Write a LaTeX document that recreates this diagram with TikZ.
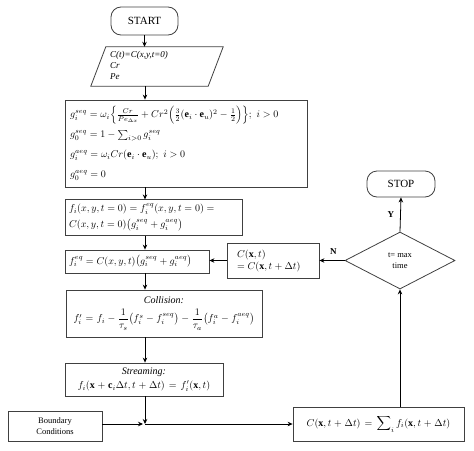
\documentclass[tikz,border=0pt]{standalone}
\usepackage{amsmath,amssymb}
\usepackage{fontspec}
\setmainfont{Liberation Serif}
\usetikzlibrary{shapes.geometric,arrows.meta,calc}
\begin{document}
\begin{tikzpicture}[x=1pt,y=-1pt,
  box/.style={draw=black!75, line width=0.8pt, rectangle, inner sep=4pt, font=\fontsize{10}{15}\selectfont},
  term/.style={draw=black!75, line width=0.8pt, rounded corners=10pt, inner sep=0pt, font=\fontsize{11}{13}\selectfont},
  arr/.style={-{Stealth[length=5pt,width=4.5pt]}, line width=0.8pt},
  lbl/.style={font=\bfseries\fontsize{9}{10}\selectfont, inner sep=0pt}]
\useasboundingbox (0,0) rectangle (474,450);

% nodes
\node[term, minimum width=67pt, minimum height=28pt] (start) at (144.5,21) {START};
\node[inner sep=0pt, minimum width=132pt, minimum height=39pt] (para) at (157,66.5) {};
\draw[draw=black!75, line width=0.8pt] ($(para.north west)+(15,0)$) -- (para.north east) -- ($(para.south east)+(-15,0)$) -- (para.south west) -- cycle;
\node[anchor=north west, align=left, inner sep=0pt, font=\itshape\fontsize{9}{11}\selectfont] (ptext) at (110,51) {C(t)=C(x,y,t=0)\\Cr\\Pe};

\node[box, text width=232pt, inner sep=5pt, minimum height=87pt, align=left, font=\fontsize{10}{20}\selectfont] (eqs) at (186,143.5)
{$g_i^{seq} = \omega_i\Big\{\frac{Cr}{Pe_{\Delta x}} + Cr^2\Big(\frac{3}{2}(\mathbf{e}_i\cdot\mathbf{e}_u)^2-\frac{1}{2}\Big)\Big\};\ i>0$\\
$g_0^{seq} = 1-\sum_{i>0} g_i^{seq}$\\
$g_i^{aeq} = \omega_i Cr(\mathbf{e}_i\cdot\mathbf{e}_u);\ i>0$\\
$g_0^{aeq} = 0$};

\node[box, text width=169pt, minimum height=35pt, align=left, font=\fontsize{10}{16}\selectfont] (init) at (153.5,217.5)
{$f_i(x,y,t=0) = f_i^{eq}(x,y,t=0) =$\\
$C(x,y,t=0)\big(g_i^{seq}+g_i^{aeq}\big)$};

\node[box, text width=136pt, minimum height=23pt, align=left] (feq) at (137,261.5)
{$f_i^{eq} = C(x,y,t)\big(g_i^{seq}+g_i^{aeq}\big)$};

\node[box, text width=190pt, minimum height=47pt, align=center, inner sep=3pt, font=\fontsize{10}{18}\selectfont] (coll) at (164,313.5)
{\textit{Collision:}\\
$f_i' = f_i - \dfrac{1}{\tau_s}\big(f_i^s - f_i^{seq}\big) - \dfrac{1}{\tau_a}\big(f_i^a - f_i^{aeq}\big)$};

\node[box, text width=150pt, minimum height=33pt, align=center, font=\fontsize{10}{14}\selectfont] (stream) at (144,379.5)
{\textit{Streaming:}\\
$f_i(\mathbf{x}+\mathbf{c}_i\Delta t, t+\Delta t) = f_i'(\mathbf{x},t)$};

\node[box, text width=86pt, minimum height=30pt, align=center, font=\fontsize{8.5}{11}\selectfont] (bound) at (55,426) {Boundary\\Conditions};

\node[box, text width=163pt, minimum height=34pt, align=center] (csum) at (378.5,424)
{$C(\mathbf{x},t+\Delta t) = \displaystyle\sum\nolimits_i f_i(\mathbf{x},t+\Delta t)$};

\node[box, text width=84pt, minimum height=35pt, align=left, font=\fontsize{10}{12}\selectfont] (cbox) at (273,260.5)
{\hspace*{6pt}$C(\mathbf{x},t)$\\\hspace*{6pt}$= C(\mathbf{x},t+\Delta t)$};

\node[draw=black!75, line width=0.8pt, diamond, minimum width=110pt, minimum height=57pt, inner sep=0pt, align=center, font=\fontsize{8.5}{11}\selectfont] (dia) at (400,260.5) {t= max\\time};

\node[term, minimum width=68pt, minimum height=26pt] (stop) at (401,184) {STOP};

\coordinate (j) at (145,424);

% connectors
\draw[arr] (start.south) -- (start.south |- para.north);
\draw[arr] (145,86) coordinate (pb) -- (eqs.north -| pb);
\draw[arr] (eqs.south -| pb) -- (init.north -| pb);
\draw[arr] (init.south -| pb) -- (feq.north -| pb);
\draw[arr] (feq.south -| pb) -- (coll.north -| pb);
\draw[arr] (coll.south -| pb) -- (stream.north -| pb);
\draw[arr] (stream.south -| pb) -- (j);
\draw[arr] (bound.east |- j) -- ($(j)+(-2,0)$);
\draw[arr] (j) -- (csum.west |- j);
\draw[arr] (csum.north -| dia.south) -- (dia.south);
\draw[arr] (dia.north) -- (stop.south) node[lbl, pos=0.5, left=6pt] {Y};
\draw[arr] (dia.west) -- (cbox.east) node[lbl, pos=0.45, above=6pt] {N};
\draw[arr] (cbox.west) -- (cbox.west -| feq.east);
\end{tikzpicture}
\end{document}
